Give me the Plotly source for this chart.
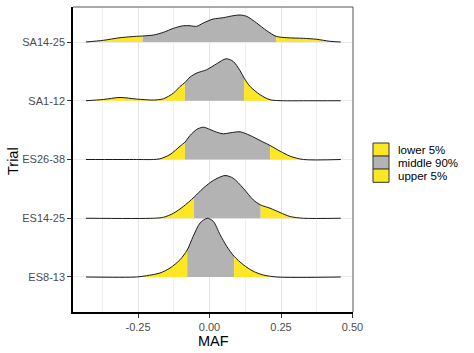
import plotly.graph_objects as go

# Trials, bottom to top
trials = ["ES8-13", "ES14-25", "ES26-38", "SA1-12", "SA14-25"]
legend_labels = ["lower 5%", "middle 90%", "upper 5%"]

# Ridge curves: MAF values and scaled density (ridge height, 1 = tallest ridge)
maf_sa1425 = [-0.432, -0.371, -0.313, -0.255, -0.234, -0.196, -0.161, -0.126, -0.092, -0.068, -0.045,
              -0.022, 0.013, 0.048, 0.083, 0.107, 0.130, 0.165, 0.200, 0.233, 0.270, 0.328, 0.375, 0.421, 0.459]
dens_sa1425 = [0.0, 0.029, 0.073, 0.097, 0.102, 0.119, 0.165, 0.233, 0.277, 0.277, 0.267,
               0.323, 0.391, 0.414, 0.448, 0.46, 0.437, 0.323, 0.192, 0.097, 0.073, 0.063, 0.046, 0.012, 0.0]

maf_sa112 = [-0.432, -0.371, -0.313, -0.255, -0.196, -0.161, -0.126, -0.103, -0.086, -0.068, -0.045, -0.010,
             0.025, 0.058, 0.083, 0.107, 0.121, 0.142, 0.177, 0.212, 0.258, 0.328, 0.459]
dens_sa112 = [0.0, 0.022, 0.056, 0.029, 0.012, 0.034, 0.131, 0.243, 0.311, 0.403, 0.471, 0.528,
              0.630, 0.715, 0.669, 0.511, 0.386, 0.243, 0.102, 0.017, 0.0, 0.0, 0.0]

maf_es2638 = [-0.432, -0.255, -0.196, -0.173, -0.138, -0.103, -0.086, -0.068, -0.045, -0.022, 0.002,
              0.025, 0.048, 0.072, 0.107, 0.142, 0.177, 0.212, 0.247, 0.282, 0.328, 0.459]
dens_es2638 = [0.0, 0.0, 0.0, 0.012, 0.085, 0.226, 0.294, 0.409, 0.511, 0.550, 0.511,
               0.465, 0.437, 0.454, 0.471, 0.409, 0.323, 0.238, 0.141, 0.056, 0.0, 0.0]

maf_es1425 = [-0.432, -0.196, -0.161, -0.126, -0.092, -0.054, -0.022, 0.013, 0.054, 0.083, 0.118,
              0.153, 0.179, 0.212, 0.247, 0.282, 0.328, 0.459]
dens_es1425 = [0.0, 0.0, 0.017, 0.085, 0.199, 0.357, 0.511, 0.642, 0.727, 0.681, 0.511,
               0.312, 0.226, 0.170, 0.097, 0.029, 0.0, 0.0]

maf_es813 = [-0.432, -0.255, -0.220, -0.173, -0.138, -0.103, -0.078, -0.057, -0.033, -0.008, 0.013,
             0.037, 0.060, 0.086, 0.118, 0.153, 0.188, 0.235, 0.459]
dens_es813 = [0.0, 0.0, 0.022, 0.068, 0.153, 0.294, 0.46, 0.693, 0.919, 1.0, 0.948,
              0.72, 0.523, 0.352, 0.209, 0.097, 0.034, 0.0, 0.0]

# 5% and 95% quantiles of each trial
q05 = {"SA14-25": -0.234, "SA1-12": -0.086, "ES26-38": -0.086, "ES14-25": -0.054, "ES8-13": -0.078}
q95 = {"SA14-25": 0.233, "SA1-12": 0.121, "ES26-38": 0.212, "ES14-25": 0.179, "ES8-13": 0.086}

curves = {
    "SA14-25": (maf_sa1425, dens_sa1425),
    "SA1-12": (maf_sa112, dens_sa112),
    "ES26-38": (maf_es2638, dens_es2638),
    "ES14-25": (maf_es1425, dens_es1425),
    "ES8-13": (maf_es813, dens_es813),
}

YELLOW = "#FDE725"
GREY = "#B3B3B3"
LINE = "#1a1a1a"
FONT = "Liberation Sans, Arial, sans-serif"

fig = go.Figure()

for name in reversed(trials):  # draw top ridge first so lower ridges overlap
    row = trials.index(name) + 1
    xs, hs = curves[name]
    i_lo = xs.index(q05[name])
    i_hi = xs.index(q95[name])
    segs = [(0, i_lo, YELLOW), (i_lo, i_hi, GREY), (i_hi, len(xs) - 1, YELLOW)]
    for a, b, col in segs:
        sx = xs[a:b + 1]
        sy = [row + h for h in hs[a:b + 1]]
        fig.add_trace(go.Scatter(x=[sx[0], sx[-1]], y=[row, row], mode="lines",
                                 line=dict(width=0), hoverinfo="skip", showlegend=False))
        fig.add_trace(go.Scatter(x=sx, y=sy, mode="lines", fill="tonexty", fillcolor=col,
                                 line=dict(width=0, shape="spline", smoothing=0.8),
                                 hoverinfo="skip", showlegend=False))
    fig.add_trace(go.Scatter(x=xs, y=[row + h for h in hs], mode="lines",
                             line=dict(color=LINE, width=1, shape="spline", smoothing=0.8),
                             hoverinfo="skip", showlegend=False))

# panel geometry in px
L, R, T, B = 73, 353, 7, 312
W, H = 474, 353
pw, ph = R - L, B - T

def px_x(p):
    return (p - L) / pw

def px_y(p):
    return (B - p) / ph

shapes = [
    dict(type="line", xref="paper", yref="paper", x0=0, x1=1, y0=1, y1=1,
         line=dict(color="#555555", width=1), layer="above"),
    dict(type="line", xref="paper", yref="paper", x0=1, x1=1, y0=0, y1=1,
         line=dict(color="#555555", width=1), layer="above"),
]
annotations = []
key_cols = [YELLOW, GREY, YELLOW]
key_top = [143, 156, 169]
for lab, col, kt in zip(legend_labels, key_cols, key_top):
    shapes.append(dict(type="rect", xref="paper", yref="paper",
                       x0=px_x(373), x1=px_x(389), y0=px_y(kt + 13.3), y1=px_y(kt),
                       fillcolor=col, line=dict(color="#333333", width=1)))
    annotations.append(dict(xref="paper", yref="paper", x=px_x(396), y=px_y(kt + 6.7),
                            text=lab, showarrow=False, xanchor="left", yanchor="middle",
                            font=dict(family=FONT, size=11.5, color="#000000")))

annotations.append(dict(xref="paper", yref="paper", x=px_x(213), y=px_y(341), text="MAF",
                        showarrow=False, xanchor="center", yanchor="middle",
                        font=dict(family=FONT, size=14.5, color="#000000")))
annotations.append(dict(xref="paper", yref="paper", x=px_x(13), y=px_y(161), text="Trial",
                        showarrow=False, xanchor="center", yanchor="middle", textangle=-90,
                        font=dict(family=FONT, size=14.5, color="#000000")))

fig.update_layout(
    width=W, height=H,
    margin=dict(l=L, r=W - R, t=T, b=H - B, pad=0),
    paper_bgcolor="white", plot_bgcolor="white",
    showlegend=False,
    shapes=shapes, annotations=annotations,
    xaxis=dict(range=[-0.4773, 0.5017], tickmode="array",
               tickvals=[-0.25, 0, 0.25, 0.5], ticktext=["-0.25", "0.00", "0.25", "0.50"],
               showgrid=True, gridcolor="#E6E6E6", gridwidth=1,
               minor=dict(tickmode="array", tickvals=[-0.375, -0.125, 0.125, 0.375],
                          showgrid=True, gridcolor="#F0F0F0", gridwidth=1),
               showline=True, linecolor="#000000", linewidth=1.5,
               ticks="outside", ticklen=4, tickcolor="#333333", tickwidth=1,
               ticklabelstandoff=0,
               tickfont=dict(family=FONT, size=11, color="#4D4D4D"),
               zeroline=False, fixedrange=True),
    yaxis=dict(range=[0.404, 5.596], tickmode="array",
               tickvals=[1, 2, 3, 4, 5], ticktext=trials,
               showgrid=True, gridcolor="#EBEBEB", gridwidth=1,
               showline=True, linecolor="#000000", linewidth=1.5,
               ticks="outside", ticklen=4, tickcolor="#333333", tickwidth=1,
               tickfont=dict(family=FONT, size=11, color="#4D4D4D"),
               zeroline=False, fixedrange=True),
)

fig.write_html("out.html")
